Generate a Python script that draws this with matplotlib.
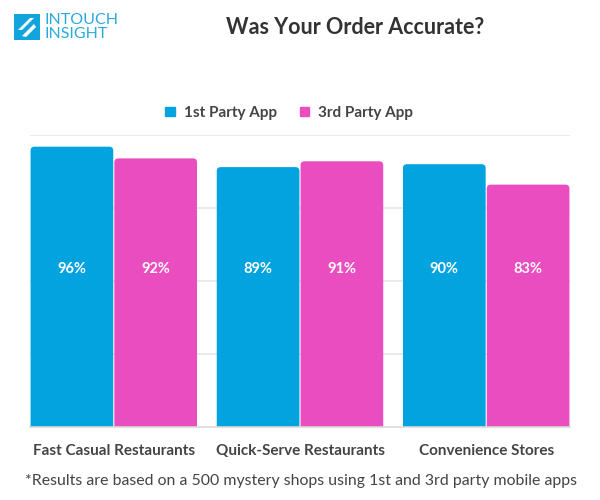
import matplotlib.pyplot as plt
from matplotlib.patches import FancyBboxPatch, Rectangle, Polygon, Patch

plt.rcParams['font.family'] = ['Lato', 'DejaVu Sans']

categories = ['Fast Casual Restaurants', 'Quick-Serve Restaurants', 'Convenience Stores']
first_party = [96, 89, 90]
third_party = [92, 91, 83]
series_names = ['1st Party App', '3rd Party App']
colors = ['#03a3e0', '#ea4dc0']
grid_ticks = [25, 50, 75, 100]

fig = plt.figure(figsize=(6, 5), dpi=100)
ax = fig.add_axes([0.05, 0.146, 0.9, 0.584])

w = 0.45
ax.set_xlim(-0.45, 2.45)
ax.set_ylim(0, 100)

# rounded bars: radius ~4px in both directions
px_x = 540 / 2.9
px_y = 292 / 100
r = 4 / px_x
aspect = px_x / px_y
for vals, off, c in [(first_party, -w / 2, colors[0]), (third_party, w / 2, colors[1])]:
    for i, v in enumerate(vals):
        x0 = i + off - w / 2
        p = FancyBboxPatch((x0 + 0.003, -3), w - 0.006, v + 3,
                           boxstyle=f"round,pad=0,rounding_size={r}",
                           mutation_aspect=aspect, fc=c, ec='none', zorder=3)
        ax.add_patch(p)
        ax.text(i + off, 54, f'{v}%', color='white', fontsize=10.5,
                fontweight='bold', ha='center', va='center', zorder=4)

ax.set_yticks(grid_ticks)
ax.yaxis.grid(True, color='#e6e6e6', linewidth=1.2, zorder=0)
ax.set_axisbelow(True)
ax.tick_params(axis='y', left=False, labelleft=False)
ax.set_xticks(range(len(categories)))
ax.set_xticklabels(categories, fontsize=11, fontweight='bold', color='#444444')
ax.tick_params(axis='x', length=0, pad=12)
for s in ['top', 'left', 'right']:
    ax.spines[s].set_visible(False)
ax.spines['bottom'].set_color('#d9d9d9')
ax.spines['bottom'].set_linewidth(1.2)
ax.spines['bottom'].set_zorder(5)

handles = [Patch(color=c, label=n) for c, n in zip(colors, series_names)]
leg = fig.legend(handles=handles, loc='center', bbox_to_anchor=(0.482, 0.774), ncol=2,
                 frameon=False, handlelength=0.6, handleheight=0.6, handletextpad=0.6,
                 columnspacing=1.5, prop={'weight': 'bold', 'size': 11})
for t in leg.get_texts():
    t.set_color('#444444')

fig.text(0.592, 0.944, 'Was Your Order Accurate?', ha='center', va='center',
         fontsize=15.5, fontweight='bold', color='#333333')
fig.text(0.502, 0.038, '*Results are based on a 500 mystery shops using 1st and 3rd party mobile apps',
         ha='center', va='center', fontsize=11.4, color='#444444')

# logo
fig.patches.append(Rectangle((14 / 600, 1 - 40 / 500), 26 / 600, 26 / 500,
                             transform=fig.transFigure, fc='#12a4dc', ec='none'))
fig.patches.append(Polygon([(18 / 600, 1 - 30 / 500), (30 / 600, 1 - 18 / 500), (34 / 600, 1 - 18 / 500),
                            (22 / 600, 1 - 30 / 500)], closed=True, transform=fig.transFigure,
                           fc='white', ec='none'))
fig.patches.append(Polygon([(22 / 600, 1 - 36 / 500), (34 / 600, 1 - 24 / 500), (36 / 600, 1 - 27 / 500),
                            (26 / 600, 1 - 37 / 500)], closed=True, transform=fig.transFigure,
                           fc='white', ec='none'))
fig.text(45 / 600, 1 - 20 / 500, 'INTOUCH', fontsize=11.5, color='#29a9dd', va='center', ha='left')
fig.text(45 / 600, 1 - 34 / 500, 'INSIGHT', fontsize=11.5, color='#29a9dd', va='center', ha='left')

fig.savefig('out.png', dpi=100)
